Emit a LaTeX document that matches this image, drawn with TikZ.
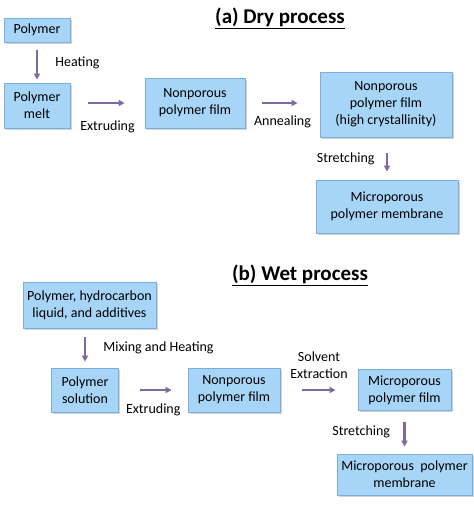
\documentclass[tikz,border=0pt]{standalone}
\usepackage{fontspec}
\setmainfont{Carlito}
\usepackage{xcolor}
\usepackage{tikz}
\usetikzlibrary{arrows.meta, positioning, shadows}

\definecolor{boxfill}{HTML}{A6D5F7}
\definecolor{boxline}{HTML}{7AAEDC}
\definecolor{arrowpurple}{HTML}{7D6AA0}

\begin{document}
\begin{tikzpicture}[
  x=1pt, y=1pt,
  box/.style={draw=boxline, fill=boxfill, line width=0.8pt, align=center,
    inner sep=2pt, font=\fontsize{14}{17}\selectfont,
    drop shadow={shadow xshift=1.5pt, shadow yshift=-1.5pt, opacity=0.35}},
  arrow/.style={-{Triangle[length=6pt, width=6pt]}, line width=2.2pt, arrowpurple},
  lbl/.style={font=\fontsize{14}{17}\selectfont, align=center, text=black},
  title/.style={font=\fontsize{21}{24}\selectfont\bfseries}
]
\useasboundingbox (0,0) rectangle (474,-512);

% (a) dry process
\node[title] (dry) at (280,-18) {\underline{(a) Dry process}};
\node[box, minimum width=66pt, minimum height=24pt] (poly) at (37,-30) {Polymer};
\node[box, minimum width=66pt, minimum height=45pt] (melt) at (37,-105.5) {Polymer\\melt};
\node[box, minimum width=100pt, minimum height=50pt] (film) at (195,-103) {Nonporous\\polymer film};
\node[box, minimum width=132pt, minimum height=65pt] (cryst) at (386,-104.5)
  {Nonporous\\polymer film\\(high crystallinity)};
\node[box, minimum width=142pt, minimum height=53pt] (membr) at (387,-206.5)
  {Microporous\\polymer membrane};

\draw[arrow, shorten <=8pt, shorten >=3pt] (poly) -- (melt)
  node[lbl, midway, right=14pt] {Heating};
\draw[arrow, shorten <=18pt, shorten >=20pt] (melt.east |- film.west) -- (film.west)
  node[lbl, midway, below=13pt] {Extruding};
\draw[arrow, shorten <=17pt, shorten >=22pt] (film.east) -- (film.east -| cryst.west)
  node[lbl, midway, below=8pt] {Annealing};
\draw[arrow, shorten <=16pt, shorten >=8pt] (cryst.south -| membr.north) -- (membr.north)
  node[lbl, midway, left=8pt] {Stretching};

% (b) wet process
\node[title] (wet) at (300,-275) {\underline{(b) Wet process}};
\node[box, minimum width=133pt, minimum height=46pt] (mix) at (89.5,-305)
  {Polymer, hydrocarbon\\liquid, and additives};
\node[box, minimum width=67pt, minimum height=44pt] (soln) at (85,-390) {Polymer\\solution};
\node[box, minimum width=92pt, minimum height=44pt] (wfilm) at (234,-390) {Nonporous\\polymer film};
\node[box, minimum width=93pt, minimum height=41pt] (micro) at (404.5,-390) {Microporous\\polymer film};
\node[box, minimum width=135pt, minimum height=41pt] (wmembr) at (404.5,-474.5)
  {Microporous~ polymer\\membrane};

\draw[arrow, shorten <=9pt, shorten >=6pt] (mix.south -| soln.north) -- (soln.north)
  node[lbl, midway, right=14pt] {Mixing and Heating};
\draw[arrow, shorten <=21pt, shorten >=16pt] (soln) -- (wfilm)
  node[lbl, midway, below=9pt] {Extruding};
\draw[arrow, shorten <=22pt, shorten >=22pt] (wfilm) -- (micro)
  node[lbl, midway, above=7pt] {Solvent\\Extraction};
\draw[arrow, shorten <=11pt, shorten >=7pt] (micro) -- (wmembr)
  node[lbl, midway, left=10pt] {Stretching};
\end{tikzpicture}
\end{document}
